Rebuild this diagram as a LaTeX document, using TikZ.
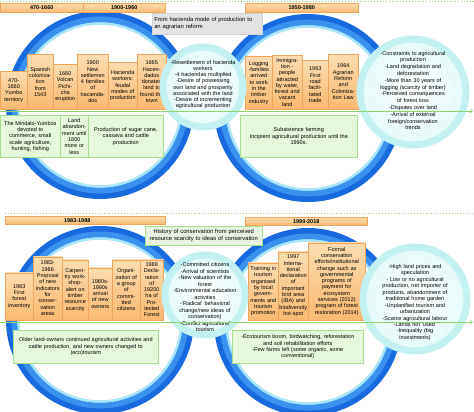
\documentclass[tikz,border=0pt]{standalone}
\usepackage{fontspec}
\setmainfont{Liberation Sans}
\usetikzlibrary{shadows,arrows.meta}
\definecolor{obord}{HTML}{F0A45C}
\definecolor{otop}{HTML}{FDDCB0}
\definecolor{obot}{HTML}{F9BA72}
\definecolor{gfill}{HTML}{E6F8DC}
\definecolor{gbord}{HTML}{A6E08C}
\definecolor{ringA}{HTML}{1A6ADF}
\definecolor{ringB}{HTML}{3A92EE}
\definecolor{ringC}{HTML}{A8E5F6}
\definecolor{cbord}{HTML}{C3F0F0}
\definecolor{cin}{HTML}{E4F9F9}
\definecolor{lgreen}{HTML}{8ED46A}
\definecolor{tgray}{HTML}{E3E3E3}
\definecolor{tgrayb}{HTML}{D2D2D2}
\definecolor{tgreen}{HTML}{E9F3E1}
\newcommand\fs{\fontsize{5.5}{6.3}\selectfont}
\newcommand\ft{\fontsize{5.8}{6.8}\selectfont}
\newcommand\fca{\fontsize{5.5}{6.2}\selectfont}
\newcommand\fcb{\fontsize{5.5}{6.8}\selectfont}
\newcommand\fcc{\fontsize{5.5}{6.5}\selectfont}
\newcommand\fcd{\fontsize{5.5}{6.45}\selectfont}
\begin{document}
\begin{tikzpicture}[x=1pt,y=-1pt,
  obox/.style={draw=obord, line width=0.5pt, top color=otop, bottom color=obot, align=center, inner sep=0.5pt, font=\fs, anchor=south west},
  ob/.style 2 args={obox, text width=#1, minimum height=#2},
  gbox/.style={draw=gbord, line width=0.6pt, fill=gfill, align=center, inner sep=1pt, font=\fs, anchor=north west, drop shadow={opacity=0.2,shadow xshift=1pt,shadow yshift=-1pt}},
  gb/.style 2 args={gbox, text width=#1, minimum height=#2},
  bar/.style={draw=obord, line width=0.5pt, top color=otop, bottom color=obot, font=\fs\bfseries, inner sep=0pt, anchor=north west},
  titlebox/.style={line width=0.5pt, inner sep=1.5pt, font=\ft, anchor=north west, drop shadow={opacity=0.25,shadow xshift=1.2pt,shadow yshift=-1.2pt}},
  cdisk/.style={circle, draw=cbord, line width=7pt, inner color=white, outer color=cin, inner sep=0pt},
  ctext/.style={align=center, inner sep=0pt},
  ringouter/.style={ringA, line width=6pt},
  ringmid/.style={ringB, line width=6pt},
  ringinner/.style={ringC, line width=2.5pt},
  guide/.style={lgreen, line width=0.6pt, -{To[length=3pt,width=4pt]}},
  dots/.style={lgreen, dotted, line width=0.9pt}
]
\useasboundingbox (0,0) rectangle (474,412);
% rings
\foreach \cx/\cy in {100/105, 308/108, 100/320, 308/322}{
  \draw[ringouter] (\cx,\cy) circle[radius=91pt];
  \draw[ringmid] (\cx,\cy) circle[radius=85.5pt];
  \draw[ringinner] (\cx,\cy) circle[radius=81.5pt];
}
% dotted lines
\coordinate (d1a) at (0,1.5); \coordinate (d1b) at (474,1.5);
\coordinate (d2a) at (5,213); \coordinate (d2b) at (474,213);
\draw[dots] (d1a) -- (d1b);
\draw[dots] (d2a) -- (d2b);
% period bars
\node[bar, minimum width=83pt, minimum height=9pt] (b1) at (0,3) {470-1660};
\node[bar, minimum width=82pt, minimum height=9pt] (b2) at (83,3) {1900-1960};
\node[bar, minimum width=113pt, minimum height=9pt] (b3) at (245,3) {1950-1980};
\node[bar, minimum width=160pt, minimum height=8pt] (b4) at (5,216) {\hspace*{-16pt}1983-1988};
\node[bar, minimum width=122pt, minimum height=8pt] (b5) at (245,217) {1990-2018};
% title boxes
\node[titlebox, draw=tgrayb, fill=tgray, minimum width=110pt, minimum height=21pt, align=left, text width=106pt] (t1) at (152,13) {From hacienda mode of production to\\an agrarian reform};
\node[titlebox, draw=gbord, fill=tgreen, minimum width=117pt, minimum height=19pt, align=center, text width=113pt] (t2) at (145,226) {History of conservation from perceived\\resource scarcity to ideas of conservation};
% top orange boxes
\node[ob={26pt}{37pt}] (o1) at (0,109) {470-\\1660\\Yumbo\\territory};
\node[ob={25pt}{54pt}] (o2) at (27,109) {Spanish\\coloniza-\\tion\\from\\1543};
\node[ob={23pt}{44pt}] (o3) at (53,109) {1660\\Volcan\\Pichi-\\cha\\eruption};
\node[ob={30pt}{54pt}] (o4) at (77,109) {1900\\New\\settlemen\\4 families\\of\\hacienda-\\dos};
\node[ob={28pt}{46pt}] (o5) at (108,109) {Hacienda\\workers:\\feudal\\modes of\\production};
\node[ob={28pt}{54pt}] (o6) at (137,109) {1665\\Hacen-\\dados\\`donated'\\land to\\found the\\town};
\node[ob={26pt}{52pt}] (o7) at (245,109) {Logging\\-families\\arrived\\to work\\in the\\timber\\industry};
\node[ob={29pt}{53pt}] (o8) at (272,109) {Immigra-\\tion -\\people\\attracted\\by water,\\forest and\\vacant\\land};
\node[ob={25pt}{48pt}] (o9) at (302,109) {1963\\First\\road\\facili-\\tated\\trade};
\node[ob={29pt}{54pt}] (o10) at (328,109) {1964\\Agrarian\\Reform\\and\\Coloniza-\\tion Law};
% bottom orange boxes
\node[ob={27pt}{47pt}] (p1) at (5,320) {1983\\First\\forest\\inventory};
\node[ob={28pt}{63pt}] (p2) at (33,320) {1983-\\1986\\Proposal\\of new\\indicators\\for\\conser-\\vation\\areas};
\node[ob={25pt}{60pt}] (p3) at (62,320) {Carpen-\\try work-\\shop-\\alert on\\timber\\resource\\scarcity};
\node[ob={23pt}{52pt}] (p4) at (88,320) {1980s-\\1990s\\arrival\\of new\\owners};
\node[ob={27pt}{60pt}] (p5) at (112,320) {Organi-\\zation of\\a group\\of\\commi-\\tted\\citizens};
\node[ob={22pt}{60pt}] (p6) at (140,320) {1988\\Decla-\\ration\\of\\19200\\ha of\\Pro-\\tected\\Forest};
\node[ob={29pt}{57pt}] (p7) at (248,320) {Training in\\tourism\\organised\\by local\\govern-\\ments and\\tourism\\promotion};
\node[ob={29pt}{68pt}] (p8) at (278,320) {1997\\Interna-\\tional\\declaration\\of\\important\\bird area\\(IBA) and\\biodiversity\\hot-spot};
\node[ob={56pt}{77pt}] (p9) at (308,320) {Formal\\conservation\\efforts/institutional\\change such as\\governmental\\programs of\\payment for\\ecosystem\\services (2012)\\program of forest\\restoration (2014)};
% green boxes
\node[gb={58pt}{42pt}] (g1) at (0,115) {The Mindalo-Yumbos\\devoted to\\commerce, small\\scale agriculture,\\hunting, fishing};
\node[gb={26pt}{42pt}] (g2) at (60,115) {Land\\abandon-\\ment until\\1800\\more or\\less};
\node[gb={73pt}{42pt}] (g3) at (88,115) {Production of sugar cane,\\cassava and cattle\\production};
\node[gb={115pt}{42pt}] (g4) at (240,115) {Subsistence farming\\Incipient agricultural production until the\\1990s.};
\node[gb={143pt}{33pt}] (h1) at (13,330) {Older land-owners continued agricultural activities and\\cattle production, and new owners changed to\\(eco)tourism};
\node[gb={129pt}{33pt}] (h2) at (232,330) {-Ecotourism boom, birdwatching, reforestation\\and soil rehabilitation efforts\\-Few farms left (some organic, some\\conventional)};
% circles
\node[cdisk, minimum size=80pt] (c1) at (203,87) {};
\node[ctext, font=\fca, text width=66pt] (c1t) at (203,84.5) {-Resettlement of hacienda\\workers\\-4 haciendas multiplied\\-Desire of possessing\\own land and prosperity\\associated with the land\\-Desire of incrementing\\agricultural production};
\node[cdisk, minimum size=106pt] (c2) at (413,92) {};
\node[ctext, font=\fcb, text width=84pt] (c2t) at (413,90.5) {-Constraints to agricultural\\production\\-Land degradation and\\deforestation\\-More than 30 years of\\logging (scarcity of timber)\\-Perceived consequences\\of forest loss\\-Disputes over land\\-Arrival of external\\foreign/conservation\\trends};
\node[cdisk, minimum size=80pt] (c3) at (205,295) {};
\node[ctext, font=\fcc, text width=66pt] (c3t) at (205,297.5) {-Committed citizens\\-Arrival of scientists\\-New valuation of the\\forest\\-Environmental education\\activities\\-`Radical' behavioral\\change/new ideas of\\conservation)\\-Conflict agriculture/\\tourism};
\node[cdisk, minimum size=104pt] (c4) at (415,299) {};
\node[ctext, font=\fcd, text width=84pt] (c4t) at (415,302.5) {-High land prices and\\speculation\\- Low or no agricultural\\production, net importer of\\products, abandonment of\\traditional home garden\\-Unplanified tourism and\\urbanization\\-Scarce agricultural labour\\-Lands not `used'\\-Inequality (big\\investments)};
% guide arrows
\coordinate (la) at (0,111); \coordinate (lb) at (473,111);
\coordinate (ma) at (0,322); \coordinate (mb) at (473,322);
\draw[guide] (la) -- (lb);
\draw[guide] (ma) -- (mb);
\end{tikzpicture}
\end{document}
